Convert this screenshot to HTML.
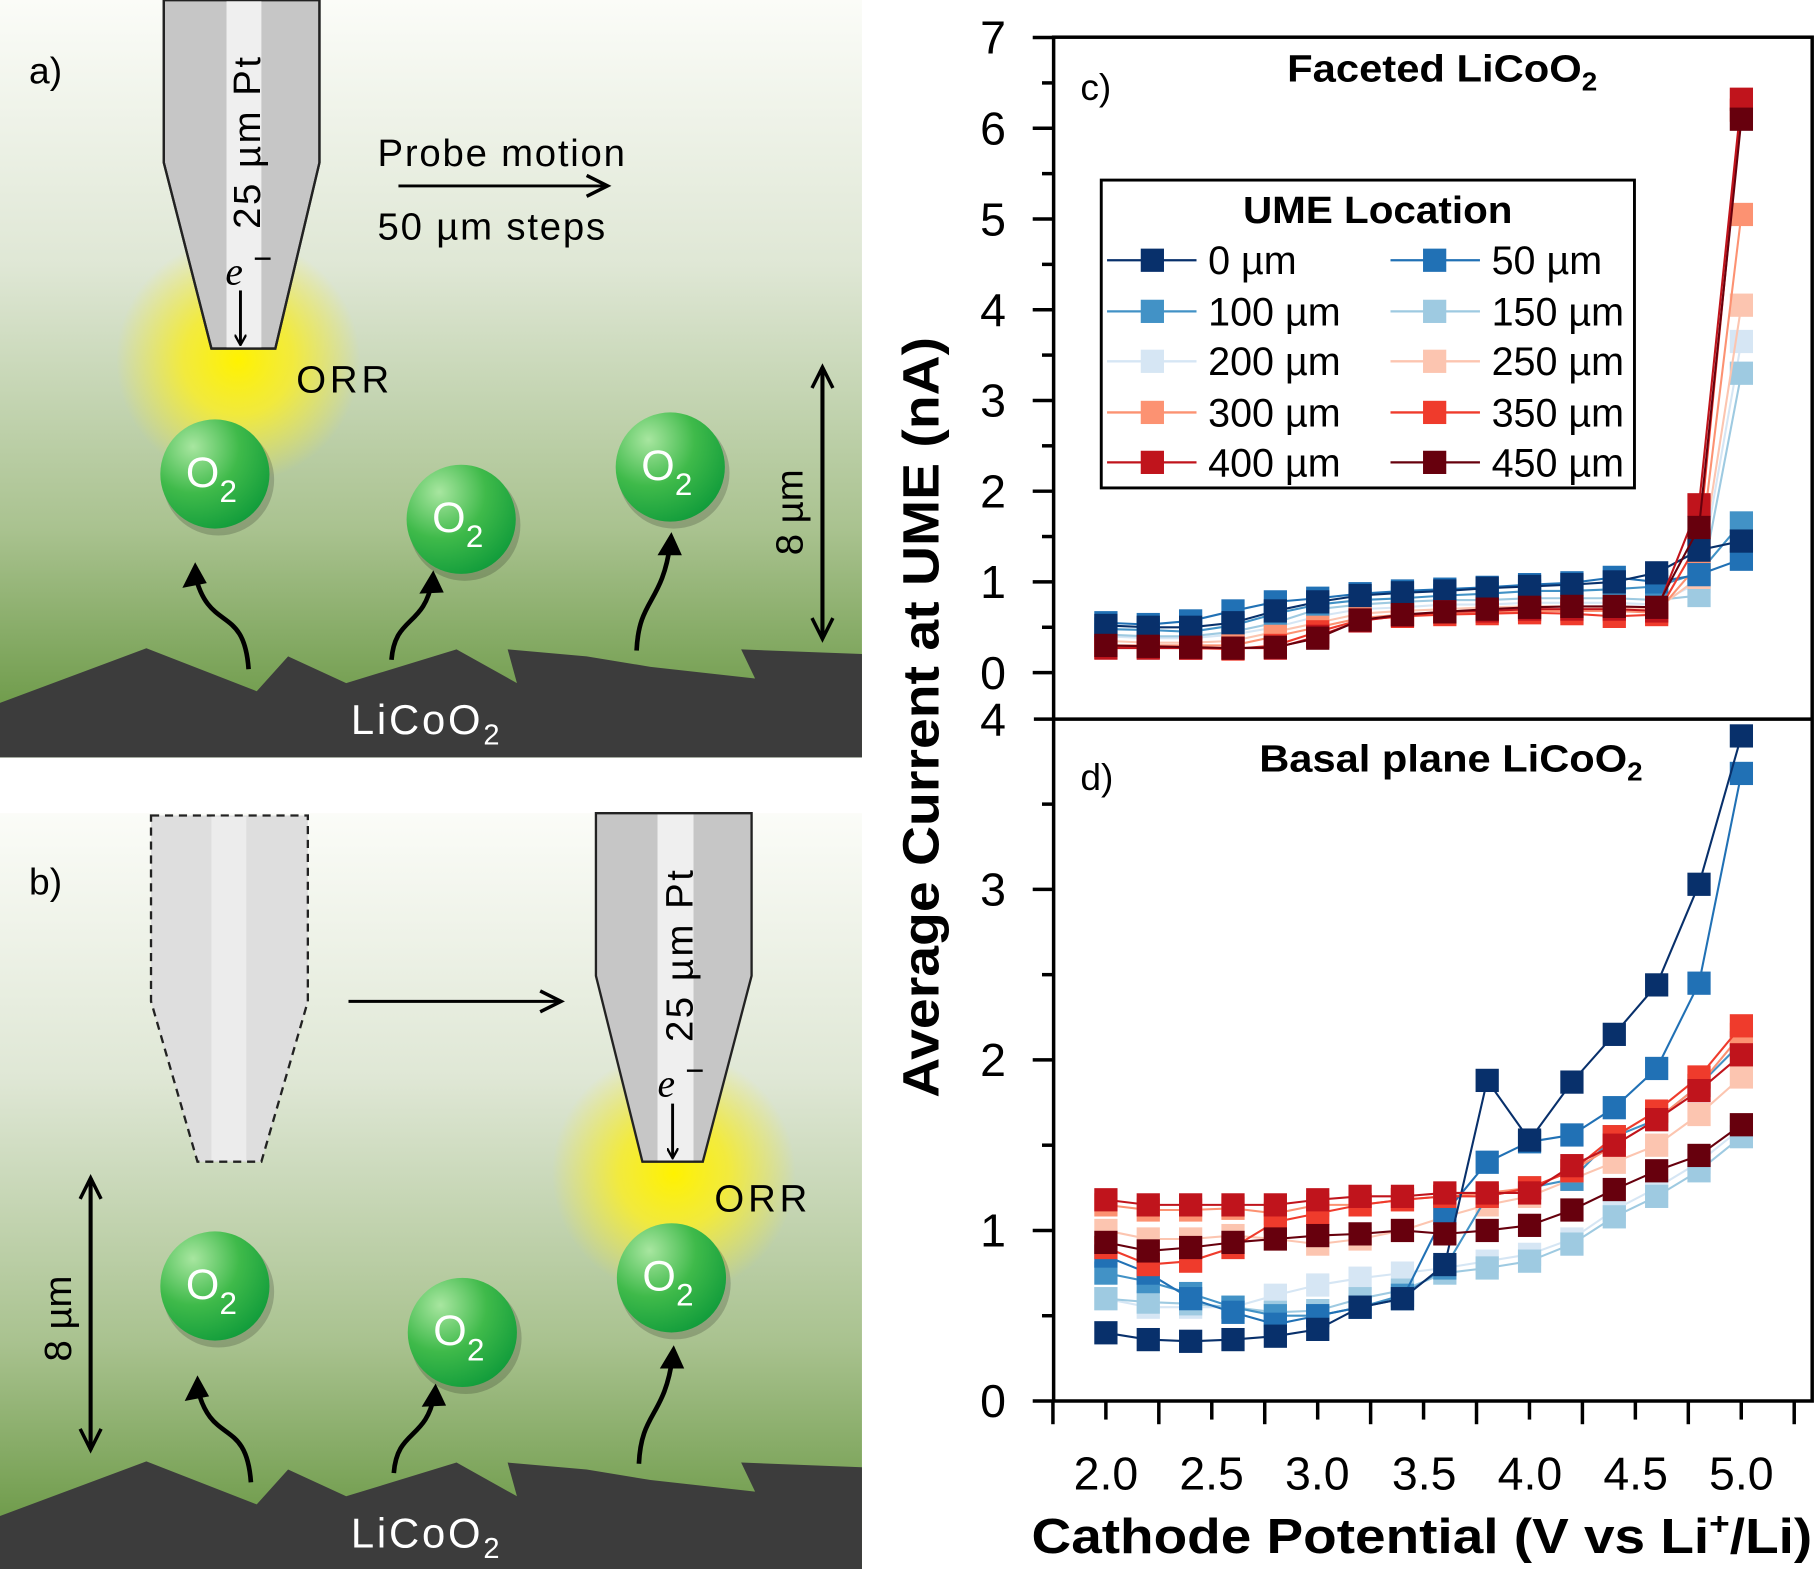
<!DOCTYPE html>
<html><head><meta charset="utf-8"><style>
html,body{margin:0;padding:0;background:#fff;}
svg{display:block;font-family:"Liberation Sans",sans-serif;}
</style></head><body>
<svg id="s" width="1818" height="1569" viewBox="0 0 1565 1350.6" xmlns="http://www.w3.org/2000/svg">
<defs>
<linearGradient id="bg" x1="0" y1="0" x2="0" y2="1">
<stop offset="0" stop-color="#fbfcf8"/><stop offset="0.35" stop-color="#dfe7d5"/><stop offset="0.7" stop-color="#a9c28f"/><stop offset="1" stop-color="#5f9138"/></linearGradient>
<radialGradient id="glow"><stop offset="0" stop-color="#fff200"/><stop offset="0.45" stop-color="#f6ec30" stop-opacity="0.9"/><stop offset="1" stop-color="#f6ec30" stop-opacity="0"/></radialGradient>
<radialGradient id="ball" cx="0.3" cy="0.25" r="0.85"><stop offset="0" stop-color="#a8e6a0"/><stop offset="0.5" stop-color="#3fba4a"/><stop offset="1" stop-color="#0e9a3a"/></radialGradient>
<marker id="ah" markerWidth="10" markerHeight="10" refX="8" refY="5" orient="auto" markerUnits="userSpaceOnUse"><path d="M0,0 L9,5 L0,10" fill="none" stroke="#000" stroke-width="2"/></marker>
<marker id="ah2" markerWidth="24" markerHeight="24" refX="20" refY="12" orient="auto-start-reverse" markerUnits="userSpaceOnUse"><path d="M2,3 L20,12 L2,21" fill="none" stroke="#000" stroke-width="3"/></marker>
</defs>

<!-- Panel a -->
<rect x="0" y="0" width="742" height="652" fill="url(#bg)"/>
<circle cx="205" cy="310" r="105" fill="url(#glow)"/>
<polygon points="0,605 126,558 221,595 248,565 298,588 393,559 445,588 437,559 505,565 560,574 650,584 638,559 742,563 742,652 0,652" fill="#3c3c3c"/>
<polygon points="141,0 275,0 275,140 237,300 182,300 141,140" fill="#c6c6c6" stroke="#222" stroke-width="2"/>
<polygon points="195,0 225,0 225,300 195,300" fill="#efefef"/>
<polygon points="141,0 275,0 275,140 237,300 182,300 141,140" fill="none" stroke="#222" stroke-width="2"/>
<text transform="translate(224,197) rotate(-90)" font-size="33" textLength="148">25 µm Pt</text>
<text x="194" y="245" font-size="34" font-style="italic" font-family="Liberation Serif,serif">e</text><text x="218" y="232" font-size="28">−</text>
<line x1="207" y1="250" x2="207" y2="296" stroke="#000" stroke-width="2.5" marker-end="url(#ah)"/>
<text x="255" y="338" font-size="33" textLength="80">ORR</text>
<text x="325" y="143" font-size="33" textLength="213">Probe motion</text>
<line x1="343" y1="160" x2="523" y2="160" stroke="#000" stroke-width="2.5" marker-end="url(#ah2)"/>
<text x="325" y="206" font-size="33" textLength="196">50 µm steps</text>
<text x="25" y="72" font-size="32">a)</text>
<line x1="708" y1="316" x2="708" y2="550" stroke="#000" stroke-width="3.5" marker-start="url(#ah2)" marker-end="url(#ah2)"/>
<text transform="translate(691,478) rotate(-90)" font-size="33">8 µm</text>
<text x="302" y="632" font-size="36" fill="#fff" textLength="128">LiCoO<tspan font-size="25" dy="9">2</tspan></text>
<g fill="none" stroke="#000" stroke-width="4">
<path d="M214,576 C210,520 180,545 168,495"/><path d="M337,568 C340,530 365,540 372,500"/><path d="M548,560 C550,515 570,520 577,468"/>
</g>
<g fill="#000"><polygon points="168,484 157,506 178,502"/><polygon points="373,491 361,511 382,510"/><polygon points="578,458 566,478 587,478"/></g>

<!-- Panel b -->
<rect x="0" y="700" width="742" height="651" fill="url(#bg)"/>
<circle cx="580" cy="1010" r="105" fill="url(#glow)"/>
<polygon points="0,1305 126,1258 221,1295 248,1265 298,1288 393,1259 445,1288 437,1259 505,1265 560,1274 650,1284 638,1259 742,1263 742,1351 0,1351" fill="#3c3c3c"/>
<polygon points="130,702 265,702 265,862 225,1000 170,1000 130,862" fill="#dedede" stroke="#222" stroke-width="2" stroke-dasharray="7,5"/>
<rect x="182" y="703" width="30" height="296" fill="#ececec"/>
<line x1="300" y1="862" x2="483" y2="862" stroke="#000" stroke-width="2.5" marker-end="url(#ah2)"/>
<polygon points="513,700 647,700 647,840 605,1000 553,1000 513,840" fill="#c6c6c6"/>
<rect x="566" y="701" width="31" height="298" fill="#efefef"/>
<polygon points="513,700 647,700 647,840 605,1000 553,1000 513,840" fill="none" stroke="#222" stroke-width="2"/>
<text transform="translate(596,897) rotate(-90)" font-size="33" textLength="148">25 µm Pt</text>
<text x="566" y="944" font-size="34" font-style="italic" font-family="Liberation Serif,serif">e</text><text x="590" y="931" font-size="28">−</text>
<line x1="579" y1="950" x2="579" y2="996" stroke="#000" stroke-width="2.5" marker-end="url(#ah)"/>
<text x="615" y="1043" font-size="33" textLength="80">ORR</text>
<text x="25" y="770" font-size="32">b)</text>
<line x1="78" y1="1014" x2="78" y2="1248" stroke="#000" stroke-width="3.5" marker-start="url(#ah2)" marker-end="url(#ah2)"/>
<text transform="translate(61,1172) rotate(-90)" font-size="33">8 µm</text>
<text x="302" y="1332" font-size="36" fill="#fff" textLength="128">LiCoO<tspan font-size="25" dy="9">2</tspan></text>
<g fill="none" stroke="#000" stroke-width="4">
<path d="M216,1276 C212,1220 182,1245 170,1195"/><path d="M339,1268 C342,1230 367,1240 374,1200"/><path d="M550,1260 C552,1215 572,1220 579,1168"/>
</g>
<g fill="#000"><polygon points="170,1184 159,1206 180,1202"/><polygon points="375,1191 363,1211 384,1210"/><polygon points="580,1158 568,1178 589,1178"/></g>

<g id="balls"></g>

<!-- Charts -->
<g id="data"></g>
<rect x="907" y="32" width="653" height="1174" fill="none" stroke="#000" stroke-width="3"/>
<line x1="890" y1="619" x2="1560" y2="619" stroke="#000" stroke-width="3"/>
<g id="ticks" stroke="#000" stroke-width="3"></g>
<g font-size="40" text-anchor="end" id="ylab"></g>
<g font-size="40" text-anchor="middle">
<text x="952" y="1282">2.0</text><text x="1043" y="1282">2.5</text><text x="1134" y="1282">3.0</text><text x="1226" y="1282">3.5</text><text x="1317" y="1282">4.0</text><text x="1408" y="1282">4.5</text><text x="1499" y="1282">5.0</text>
</g>
<text x="888" y="1337" font-size="42" font-weight="bold" textLength="672" lengthAdjust="spacingAndGlyphs">Cathode Potential (V vs Li<tspan font-size="27" dy="-16">+</tspan><tspan dy="16">/Li)</tspan></text>
<text transform="translate(808,945) rotate(-90)" font-size="44" font-weight="bold" textLength="655" lengthAdjust="spacingAndGlyphs">Average Current at UME (nA)</text>
<text x="930" y="86" font-size="32">c)</text>
<text x="930" y="680" font-size="32">d)</text>
<text x="1108" y="70" font-size="33" font-weight="bold" textLength="267" lengthAdjust="spacingAndGlyphs">Faceted LiCoO<tspan font-size="22" dy="8">2</tspan></text>
<text x="1084" y="664" font-size="33" font-weight="bold" textLength="330" lengthAdjust="spacingAndGlyphs">Basal plane LiCoO<tspan font-size="22" dy="8">2</tspan></text>
<rect x="948" y="155" width="459" height="265" fill="#fff" stroke="#000" stroke-width="2.5"/>
<text x="1070" y="192" font-size="33" font-weight="bold" textLength="232" lengthAdjust="spacingAndGlyphs">UME Location</text>
<g id="leg"></g>
<g font-size="34">
<text x="1040" y="236">0 µm</text><text x="1284" y="236">50 µm</text>
<text x="1040" y="280">100 µm</text><text x="1284" y="280">150 µm</text>
<text x="1040" y="323">200 µm</text><text x="1284" y="323">250 µm</text>
<text x="1040" y="367">300 µm</text><text x="1284" y="367">350 µm</text>
<text x="1040" y="410">400 µm</text><text x="1284" y="410">450 µm</text>
</g>
</svg>
<script>
var NS="http://www.w3.org/2000/svg",S=document.getElementById('s');
function el(t,a,p){var e=document.createElementNS(NS,t);for(var k in a)e.setAttribute(k,a[k]);(p||S).appendChild(e);return e;}
var B=document.getElementById('balls');
[[185,408],[397,447],[577,402],[185,1107],[398,1147],[578,1100]].forEach(function(b){
 el('circle',{cx:b[0]+3,cy:b[1]+5,r:48,fill:'#000',opacity:0.18},B);
 el('circle',{cx:b[0],cy:b[1],r:47,fill:'url(#ball)'},B);
 var t=el('text',{x:b[0]-25,y:b[1]+11,'font-size':37,fill:'#fff'},B);t.textContent='O';
 var s=el('text',{x:b[0]+4,y:b[1]+24,'font-size':27,fill:'#fff'},B);s.textContent='2';
});
var cols=['#08306b','#2171b5','#4292c6','#9ecae1','#d6e6f4','#fcc5b0','#fc9272','#ef3b2c','#c0141c','#67000d'];
var C=[[.52,.5,.5,.55,.68,.78,.85,.88,.9,.93,.95,.97,1.0,1.1,1.35,1.45],
[.55,.53,.57,.68,.78,.82,.87,.9,.92,.94,.97,.99,1.05,1.0,1.08,1.25],
[.48,.47,.45,.52,.65,.75,.8,.82,.85,.87,.9,.9,.92,.95,1.1,1.65],
[.42,.4,.4,.45,.55,.7,.75,.78,.8,.8,.82,.82,.82,.8,.85,3.3],
[.4,.38,.38,.42,.5,.62,.7,.72,.75,.75,.77,.77,.77,.75,1.0,3.65],
[.35,.33,.33,.35,.45,.55,.65,.68,.7,.72,.73,.73,.72,.7,1.05,4.05],
[.3,.3,.3,.3,.4,.5,.6,.64,.66,.67,.68,.68,.68,.66,1.2,5.05],
[.28,.28,.27,.26,.3,.45,.58,.62,.64,.65,.66,.65,.62,.64,1.45,6.2],
[.27,.27,.27,.27,.27,.4,.57,.63,.67,.68,.7,.7,.7,.68,1.85,6.32],
[.3,.29,.28,.27,.28,.38,.58,.64,.67,.7,.72,.73,.73,.72,1.6,6.1]];
var D=[[.4,.36,.35,.36,.38,.42,.55,.6,.8,1.88,1.53,1.87,2.15,2.44,3.03,3.9],
[.85,.75,.6,.52,.45,.5,.55,.6,1.1,1.4,1.52,1.56,1.72,1.95,2.45,3.68],
[.75,.7,.63,.55,.5,.5,.55,.62,.78,1.2,1.25,1.3,1.55,1.65,1.85,2.1],
[.6,.58,.57,.55,.52,.53,.6,.65,.75,.78,.82,.92,1.08,1.2,1.35,1.55],
[.6,.55,.55,.55,.62,.68,.72,.75,.78,.82,.86,.95,1.12,1.25,1.4,1.6],
[1.0,.95,.95,.97,.95,.92,.95,1.0,1.08,1.15,1.2,1.3,1.4,1.5,1.68,1.9],
[1.15,1.12,1.12,1.13,1.1,1.15,1.15,1.18,1.2,1.22,1.25,1.35,1.5,1.65,1.85,2.15],
[.9,.8,.82,.9,1.05,1.1,1.15,1.18,1.2,1.2,1.25,1.35,1.55,1.7,1.9,2.2],
[1.18,1.15,1.15,1.15,1.15,1.18,1.2,1.2,1.22,1.22,1.22,1.38,1.5,1.65,1.82,2.03],
[.93,.88,.9,.93,.95,.97,.98,1.0,.98,1.0,1.03,1.12,1.24,1.35,1.44,1.62]];
var G=document.getElementById('data'),order=[4,3,5,2,6,1,7,0,8,9];
function X(i){return 952+i*36.47;}
function draw(data,y0,k){order.forEach(function(s){var p=data[s].map(function(v,i){return X(i)+','+(y0-k*v);}).join(' ');
 el('polyline',{points:p,fill:'none',stroke:cols[s],'stroke-width':1.8},G);
 data[s].forEach(function(v,i){el('rect',{x:X(i)-10,y:y0-k*v-10,width:20,height:20,fill:cols[s]},G);});});}
draw(C,579,78.1);draw(D,1206,146.8);
var T=document.getElementById('ticks'),Y=document.getElementById('ylab');
for(var v=0;v<=7;v+=0.5){var y=579-78.1*v;el('line',{x1:v%1?897:889,y1:y,x2:907,y2:y},T);
 if(v%1==0&&v<7){var t=el('text',{x:866,y:y+14},Y);t.textContent=v;}}
var t7=el('text',{x:866,y:46},Y);t7.textContent='7';
for(var v=0;v<4;v+=0.5){var y=1206-146.8*v;el('line',{x1:v%1?897:889,y1:y,x2:907,y2:y},T);
 if(v%1==0){var t=el('text',{x:866,y:y+14},Y);t.textContent=v;}}
var t4=el('text',{x:866,y:633},Y);t4.textContent='4';
for(var i=0;i<=14;i++){var x=906.4+i*45.58;el('line',{x1:x,y1:1206,x2:x,y2:(i%2?1222:1226)},T);}
var L=document.getElementById('leg'),rows=[224,268,311,355,398];
for(var s=0;s<10;s++){var r=Math.floor(s/2),c=s%2,x0=c?1197:953,xm=c?1235:992;
 el('line',{x1:x0,y1:rows[r],x2:x0+77,y2:rows[r],stroke:cols[s],'stroke-width':2},L);
 el('rect',{x:xm-10,y:rows[r]-10,width:20,height:20,fill:cols[s]},L);}
</script>
</body></html>
